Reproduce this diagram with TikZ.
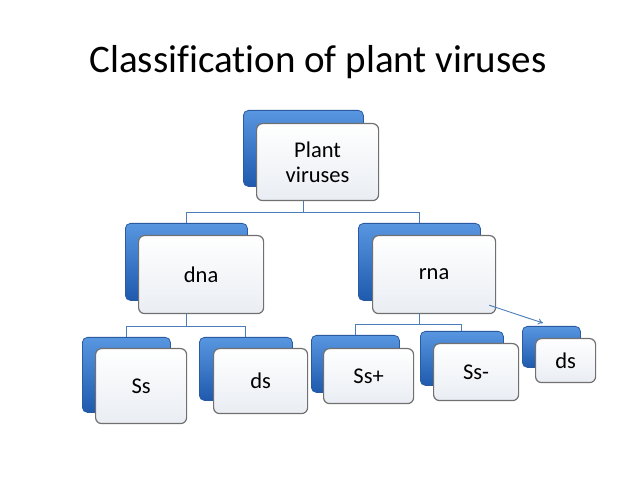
\documentclass[tikz,border=0pt]{standalone}
\usepackage{fontspec}
\setmainfont[Ligatures=NoCommon]{Carlito}
\usetikzlibrary{arrows.meta}
\definecolor{conncol}{HTML}{4A7EBB}
\definecolor{bluetop}{HTML}{5896E0}
\definecolor{bluebot}{HTML}{1F5AAE}
\definecolor{blueedge}{HTML}{2A5AA0}
\definecolor{boxedge}{HTML}{707070}
\definecolor{boxfill}{HTML}{E9EDF3}
\begin{document}
\begin{tikzpicture}[x=1pt,y=-1pt,
  backbox/.style={draw=blueedge, line width=0.8pt, top color=bluetop, bottom color=bluebot, rounded corners=5pt, anchor=north west, inner sep=0pt},
  frontbox/.style={draw=boxedge, line width=1.2pt, top color=white, bottom color=boxfill, rounded corners=6pt, anchor=north west, inner sep=0pt, font=\fontsize{22.5}{25}\selectfont, align=center, text=black},
  conn/.style={draw=conncol, line width=1.1pt}]
\useasboundingbox (0,0) rectangle (638,478);
\node[font=\fontsize{39}{46}\selectfont, anchor=base] (title) at (318,73) {Classification of plant viruses};
% back boxes
\node[backbox, minimum width=120pt, minimum height=76pt] (pvb) at (243,110) {};
\node[backbox, minimum width=122pt, minimum height=77pt] (dnab) at (125,223) {};
\node[backbox, minimum width=122pt, minimum height=77pt] (rnab) at (358,223) {};
\node[backbox, minimum width=88pt, minimum height=75pt] (ssb) at (82,337) {};
\node[backbox, minimum width=93pt, minimum height=63pt] (dsdb) at (199,337) {};
\node[backbox, minimum width=88pt, minimum height=57pt] (sspb) at (311,335) {};
\node[backbox, minimum width=83pt, minimum height=54pt] (ssmb) at (420,331) {};
\node[backbox, minimum width=58pt, minimum height=41pt] (dsrb) at (522,326) {};
% connectors
\draw[conn] (pvb.south) -- ++(0,26) -| (dnab.north);
\draw[conn] (pvb.south) -- ++(0,26) -| (rnab.north);
\draw[conn] (dnab.south) -- ++(0,26) -| (ssb.north);
\draw[conn] (dnab.south) -- ++(0,26) -| (dsdb.north);
\draw[conn] (rnab.south) -- ++(0,24) -| (sspb.north);
\draw[conn] (rnab.south) -- ++(0,24) -| (ssmb.north);
% front boxes
\node[frontbox, minimum width=122pt, minimum height=77pt] (pv) at (256,123) {Plant\\viruses};
\node[frontbox, minimum width=125pt, minimum height=78pt] (dna) at (138,235) {dna};
\node[frontbox, minimum width=123pt, minimum height=78pt] (rna) at (372,235) {rna};
\node[frontbox, minimum width=91pt, minimum height=75pt] (ss) at (95,348) {Ss};
\node[frontbox, minimum width=94pt, minimum height=65pt] (dsd) at (213,348) {ds};
\node[frontbox, minimum width=90pt, minimum height=55pt] (ssp) at (323,348) {Ss+};
\node[frontbox, minimum width=85pt, minimum height=57pt] (ssm) at (433,343) {Ss-};
\node[frontbox, minimum width=60pt, minimum height=44pt] (dsr) at (535,338) {ds};
\draw[conn, line width=0.9pt, -{To[length=5pt,width=6pt]}] ([xshift=-7pt,yshift=9pt]rna.south east) -- ([xshift=21pt,yshift=3pt]dsrb.north west);
\end{tikzpicture}
\end{document}
